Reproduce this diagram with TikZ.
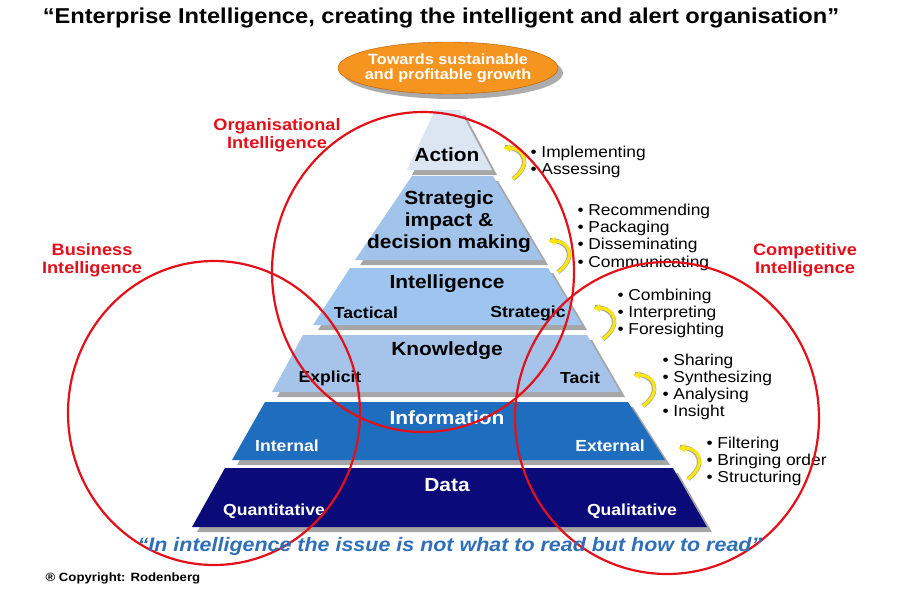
\documentclass[tikz,border=0pt]{standalone}
\usepackage{fontspec}
\setmainfont{Liberation Sans}[FakeStretch=1.1]
\usetikzlibrary{shapes.geometric,arrows.meta}
\definecolor{lvA}{HTML}{DCE6F2}
\definecolor{lvS}{HTML}{A3C4EA}
\definecolor{lvI}{HTML}{9EC5F0}
\definecolor{lvK}{HTML}{A6C4EA}
\definecolor{lvN}{HTML}{1F6DBF}
\definecolor{lvD}{HTML}{0A0A78}
\definecolor{ored}{HTML}{E3101A}
\definecolor{qblue}{HTML}{2E6FB8}
\definecolor{orng}{HTML}{F5941E}
\tikzset{
 shade/.style={fill=gray!70},
 lvtext/.style={font=\fontsize{19}{22}\selectfont\bfseries,align=center},
 subtext/.style={font=\fontsize{16}{18}\selectfont\bfseries},
 bul/.style={font=\fontsize{15.8}{17}\selectfont,anchor=west},
 ring/.style={draw=ored,line width=2.2pt},
 rlabel/.style={text=ored,font=\fontsize{16.5}{18}\selectfont\bfseries,align=center},
 yarrow/.style={draw=yellow!90!orange,line width=3pt,-{Latex[length=7pt,width=9pt]}},
 yshade/.style={draw=gray!70,line width=4.5pt}
}
\begin{document}
\begin{tikzpicture}[x=1pt,y=-1pt]
\useasboundingbox (0,0) rectangle (900,594);
\foreach \a/\b/\c/\d/\e/\f in {110/435/460/170/407/492, 176/412/493/260/355/543, 268/350/548/325/313/582, 335/303/587/392/272/620, 402/265/628/460/232/665, 468/225/673/527/192/707}{
 \fill[shade] (\b+5,\a+5) -- (\c+5,\a+5) -- (\f+5,\d+5) -- (\e+5,\d+5) -- cycle;}
\fill[lvA] (435,110) -- (460,110) -- (492,170) -- (407,170) -- cycle;
\fill[lvS] (412,176) -- (493,176) -- (543,260) -- (355,260) -- cycle;
\fill[lvI] (350,268) -- (548,268) -- (582,325) -- (313,325) -- cycle;
\fill[lvK] (303,335) -- (587,335) -- (620,392) -- (272,392) -- cycle;
\fill[lvN] (265,402) -- (628,402) -- (665,460) -- (232,460) -- cycle;
\fill[lvD] (225,468) -- (673,468) -- (707,527) -- (192,527) -- cycle;
\fill[gray!65] (453,73) ellipse [x radius=110,y radius=26];
\node[ellipse,fill=orng,draw=orange!70!black,minimum width=220,minimum height=52,inner sep=0] (goal) at (448,68) {};
\node[text=white,font=\fontsize{14.8}{15}\selectfont\bfseries,align=center] (goaltxt) at (448,68) {Towards sustainable\\and profitable growth};
\node[lvtext] (act) at (447,155) {Action};
\node[lvtext] (strat) at (449,222) {Strategic\\impact \&\\decision making};
\node[lvtext] (intel) at (447,284) {Intelligence};
\node[subtext] (tact) at (366,313) {Tactical};
\node[subtext] (strt) at (528,313) {Strategic};
\node[lvtext] (know) at (447,351) {Knowledge};
\node[subtext] (expl) at (330,378) {Explicit};
\node[subtext] (tacit) at (580,378) {Tacit};
\node[lvtext,text=white] (info) at (447,418) {Information};
\node[subtext,text=white] (intn) at (287,446) {Internal};
\node[subtext,text=white] (extn) at (610,446) {External};
\node[lvtext,text=white] (data) at (447,485) {Data};
\node[subtext,text=white] (quan) at (274,511) {Quantitative};
\node[subtext,text=white] (qual) at (632,511) {Qualitative};
\foreach \x/\y in {500/145, 545/238, 590/305, 630/372, 675/445}{
 \draw[yshade] (\x+13,\y+34) .. controls (\x+32,\y+20) and (\x+25,\y+3) .. (\x+5,\y+2);
 \draw[yarrow] (\x+13,\y+34) .. controls (\x+32,\y+20) and (\x+25,\y+3) .. (\x+3,\y+3);
}
\node[bul] (b1) at (527,153) {• Implementing};
\node[bul] (b2) at (527,170) {• Assessing};
\node[bul] (c1) at (574,211) {• Recommending};
\node[bul] (c2) at (574,228) {• Packaging};
\node[bul] (c3) at (574,245) {• Disseminating};
\node[bul] (c4) at (574,263) {• Communicating};
\node[bul] (d1) at (614,296) {• Combining};
\node[bul] (d2) at (614,313) {• Interpreting};
\node[bul] (d3) at (614,330) {• Foresighting};
\node[bul] (e1) at (659,361) {• Sharing};
\node[bul] (e2) at (659,378) {• Synthesizing};
\node[bul] (e3) at (659,395) {• Analysing};
\node[bul] (e4) at (659,412) {• Insight};
\node[bul] (f1) at (703,444) {• Filtering};
\node[bul] (f2) at (703,461) {• Bringing order};
\node[bul] (f3) at (703,478) {• Structuring};
\draw[ring] (423,272) ellipse [x radius=151,y radius=160];
\draw[ring] (214,413) ellipse [x radius=146,y radius=152];
\draw[ring] (667,418) ellipse [x radius=152,y radius=156];
\node[rlabel] (orgl) at (277,135) {Organisational\\Intelligence};
\node[rlabel] (busl) at (92,260) {Business\\Intelligence};
\node[rlabel] (coml) at (805,260) {Competitive\\Intelligence};
\node[font=\fontsize{21.5}{24}\selectfont\bfseries] (title) at (441,18) {“Enterprise Intelligence, creating the intelligent and alert organisation”};
\node[text=qblue,font=\fontsize{19.5}{22}\selectfont\bfseries\itshape] (quote) at (450,546) {“In intelligence the issue is not what to read but how to read”};
\node[anchor=west,font=\fontsize{12}{13}\selectfont\bfseries] (copy) at (42,578) {® Copyright: Rodenberg};
\end{tikzpicture}
\end{document}
